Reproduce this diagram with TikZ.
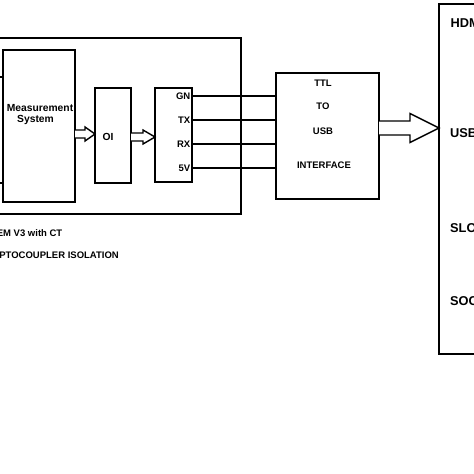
\documentclass[tikz,border=0pt]{standalone}
\usepackage{fontspec}
\setmainfont{Liberation Sans}
\usetikzlibrary{calc}
\newcommand\hollowarrow[5]{%
  \draw[harrow] ($(#1)+(0,-#3)$) -- ($(#2)+(-#5,-#3)$) -- ($(#2)+(-#5,-#4)$) -- (#2)
    -- ($(#2)+(-#5,#4)$) -- ($(#2)+(-#5,#3)$) -- ($(#1)+(0,#3)$);}
\begin{document}
\begin{tikzpicture}[x=1pt,y=-1pt,
  box/.style={draw, line width=1.5pt, inner sep=0pt, outer sep=0pt},
  lbl/.style={font=\bfseries\fontsize{9.5}{11}\selectfont, inner sep=0pt},
  medlbl/.style={font=\bfseries\fontsize{10.3}{12}\selectfont, inner sep=0pt},
  biglbl/.style={font=\bfseries\fontsize{12.8}{15}\selectfont, inner sep=0pt},
  wire/.style={line width=1.4pt},
  harrow/.style={line width=1.4pt, line join=miter, fill=white}]
\useasboundingbox (0,0) rectangle (474,474);
\clip (0,0) rectangle (474,474);
\fill[white] (0,0) rectangle (474,474);

% boxes
\node[box, minimum width=246pt, minimum height=176pt] (outer) at (118,126) {};
\node[box, minimum width=72pt, minimum height=152pt] (meas) at (39,126) {};
\node[box, minimum width=36pt, minimum height=95pt] (oi) at (113,135.5) {};
\node[box, minimum width=37pt, minimum height=94pt] (conn) at (173.5,135) {};
\node[box, minimum width=103pt, minimum height=126pt] (ttl) at (327.5,136) {};
\node[box, line width=2.2pt, minimum width=60pt, minimum height=350pt] (dev) at (469,179) {};

% stubs into measurement system
\coordinate (s1) at (-5,77);
\coordinate (s2) at (-5,183);
\draw[wire] (s1) -- (s1 -| meas.west);
\draw[wire] (s2) -- (s2 -| meas.west);

% texts
\node[medlbl] (m1) at (40,108) {Measurement};
\node[medlbl] (m2) at (35.5,119.5) {System};
\node[medlbl] (oit) at (108,137) {OI};
\node[lbl, anchor=east] (gn) at (190.5,96) {GN};
\node[lbl, anchor=east] (tx) at (190.5,120) {TX};
\node[lbl, anchor=east] (rx) at (190.5,144) {RX};
\node[lbl, anchor=east] (fv) at (190.5,168) {5V};
\node[lbl] (t1) at (323,83) {TTL};
\node[lbl] (t2) at (323,106) {TO};
\node[lbl] (t3) at (323,131) {USB};
\node[lbl] (t4) at (324,165) {INTERFACE};
\node[lbl, anchor=east] (b1) at (62.5,233) {PZEM V3 with CT};
\node[lbl, anchor=east] (b2) at (119,255) {OPTOCOUPLER ISOLATION};
\node[biglbl, anchor=west] (d1) at (450.5,23) {HDMI};
\node[biglbl, anchor=west] (d2) at (450,133) {USB};
\node[biglbl, anchor=west] (d3) at (450,228) {SLOT};
\node[biglbl, anchor=west] (d4) at (450,301) {SOC};

% wires
\foreach \p in {gn,tx,rx,fv}{
  \draw[wire] (conn.east |- \p) -- (ttl.west |- \p);
}

% hollow arrows
\coordinate (y1) at (0,134);
\coordinate (y2) at (0,137);
\coordinate (y3) at (0,128);
\coordinate (a1s) at (meas.east |- y1);
\coordinate (a1e) at (oi.west |- y1);
\coordinate (a2s) at (oi.east |- y2);
\coordinate (a2e) at (conn.west |- y2);
\coordinate (a3s) at (ttl.east |- y3);
\coordinate (a3e) at (dev.west |- y3);
\hollowarrow{a1s}{a1e}{4}{7}{10}
\hollowarrow{a2s}{a2e}{4}{7}{12}
\hollowarrow{a3s}{a3e}{7}{14.5}{29}
\end{tikzpicture}
\end{document}
